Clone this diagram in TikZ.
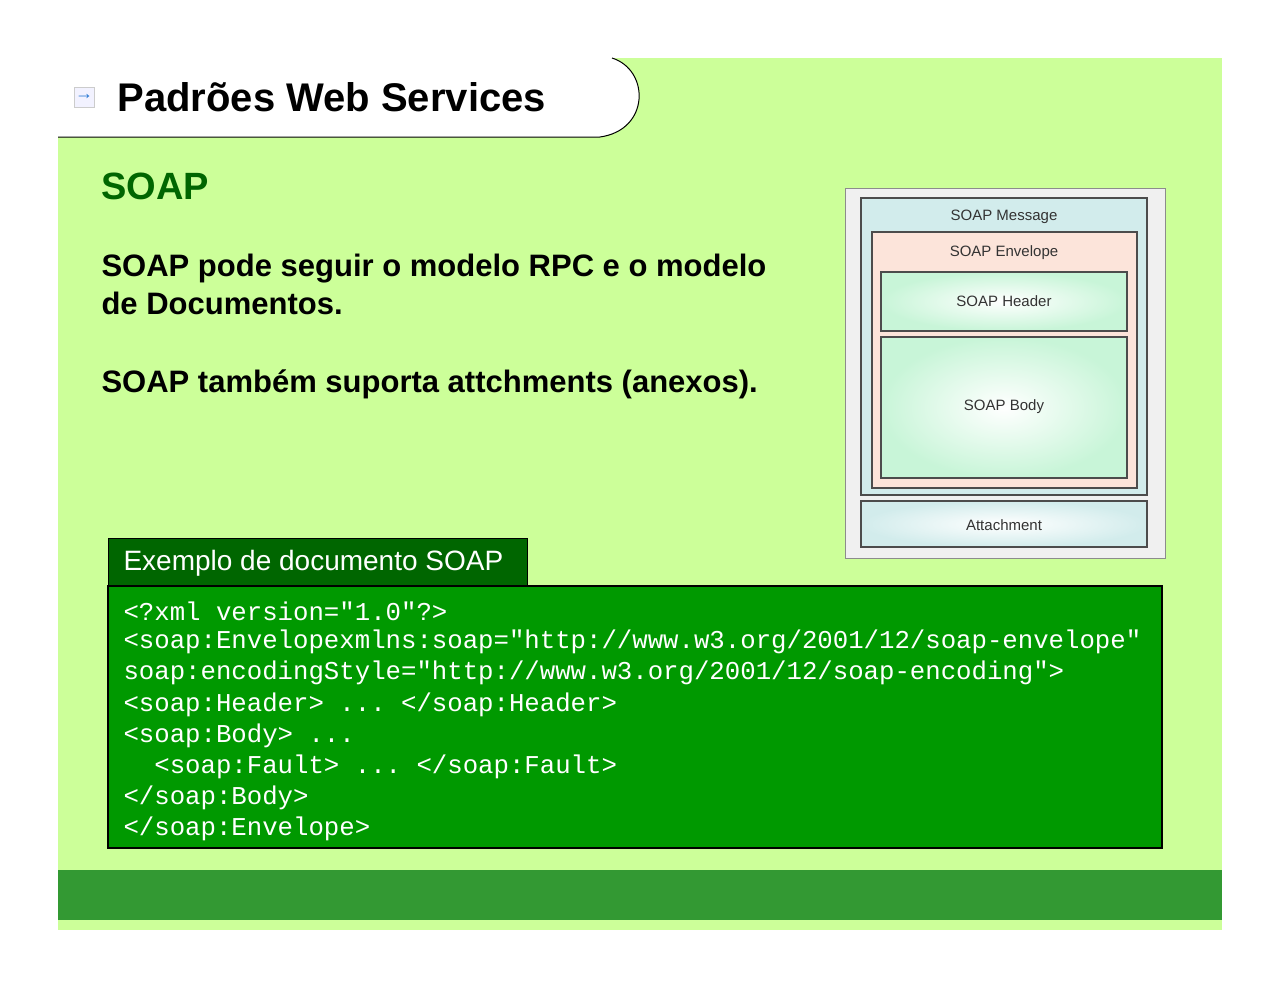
\documentclass[tikz,border=0pt]{standalone}
\usepackage{fontspec}
\setmainfont{Liberation Sans}
\setmonofont{Liberation Mono}
\definecolor{bg}{HTML}{CCFF99}
\definecolor{bar}{HTML}{339933}
\definecolor{dkg}{HTML}{006600}
\definecolor{codeg}{HTML}{009900}
\definecolor{msg}{HTML}{D2ECEC}
\definecolor{env}{HTML}{FCE4DA}
\definecolor{hdr}{HTML}{C8F5D8}
\begin{document}
\begin{tikzpicture}[x=1pt,y=-1pt,
  inbox/.style={draw=black!70,line width=1.2pt},
  lbl/.style={font=\fontsize{15}{15}\selectfont,text=black!80},
  codeln/.style={anchor=west,text=white,font=\ttfamily\fontsize{25.7}{26}\selectfont},
  bodytxt/.style={anchor=west,font=\bfseries\fontsize{31}{38}\selectfont,align=left}]
\useasboundingbox (0,0) rectangle (1280,989);
\fill[white] (0,0) rectangle (1280,989);
\fill[bg] (58,58) rectangle (1222,930);
% title tab
\fill[white] (58,58) -- (612,58) .. controls (650,70) and (650,130) .. (600,137) -- (58,137) -- cycle;
\draw[line width=1pt] (58,137) -- (600,137) .. controls (650,130) and (650,70) .. (612,58);
\node[draw=black!20,fill=blue!5,minimum size=20pt,inner sep=0pt,font=\fontsize{18}{18}\selectfont,text={rgb,255:red,40;green,120;blue,210}] (ico) at (84,97) {\bfseries →};
\node[anchor=west,font=\bfseries\fontsize{40}{40}\selectfont] (title) at (114,97) {Padrões Web Services};
\fill[bar] (58,870) rectangle (1222,920);
\node[anchor=west,text=dkg,font=\bfseries\fontsize{38}{38}\selectfont] (soap) at (98,186) {SOAP};
\node[bodytxt,anchor=north west] (b1) at (98,250) {SOAP pode seguir o modelo RPC e o modelo\\de Documentos.};
\node[bodytxt] (b2) at (98,384) {SOAP também suporta attchments (anexos).};
% diagram
\draw[draw=black!45,fill=black!6,line width=1pt] (845,188) rectangle (1165,558);
\draw[inbox,fill=msg] (861,198) rectangle (1147,495);
\draw[inbox,fill=env] (872,232) rectangle (1137,488);
\draw[inbox,inner color=white,outer color=hdr] (881,272) rectangle (1127,331);
\draw[inbox,inner color=white,outer color=hdr] (881,337) rectangle (1127,478);
\draw[inbox,inner color=white,outer color=msg] (861,501) rectangle (1147,547);
\node[lbl] (lm) at (1004,217) {SOAP Message};
\node[lbl] (le) at (1004,253) {SOAP Envelope};
\node[lbl] (lh) at (1004,301) {SOAP Header};
\node[lbl] (lb) at (1004,407) {SOAP Body};
\node[lbl] (la) at (1004,525) {Attachment};
% example
\draw[fill=dkg,line width=1pt] (108,538) rectangle (527,586);
\node[anchor=west,text=white,font=\fontsize{28}{28}\selectfont] (ext) at (120,563) {Exemplo de documento SOAP};
\draw[fill=codeg,line width=1.2pt] (108,586) rectangle (1162,848);
\node[codeln] at (120,611) {<?xml version="1.0"?>};
\node[codeln] at (120,642) {<soap:Envelopexmlns:soap="http://www.w3.org/2001/12/soap-envelope"};
\node[codeln] at (120,673) {soap:encodingStyle="http://www.w3.org/2001/12/soap-encoding">};
\node[codeln] at (120,705) {<soap:Header> ... </soap:Header>};
\node[codeln] at (120,736) {<soap:Body> ...};
\node[codeln] at (120,767) {\ \ <soap:Fault> ... </soap:Fault>};
\node[codeln] at (120,798) {</soap:Body>};
\node[codeln] at (120,829) {</soap:Envelope>};
\end{tikzpicture}
\end{document}
